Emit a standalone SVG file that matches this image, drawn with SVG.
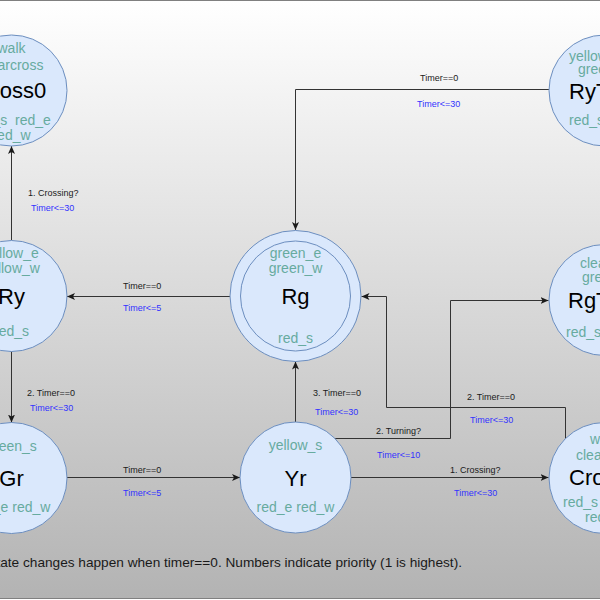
<svg xmlns="http://www.w3.org/2000/svg" width="600" height="600" viewBox="0 0 600 600">
<style>
.st circle{fill:#dae8fc;stroke:#6c8ebf;stroke-width:1}
text{font-family:"Liberation Sans",Arial,sans-serif}
.v{font-size:14px;fill:#67ab9f}
.n{font-size:22px;fill:#000}
.m{text-anchor:middle}
.l{font-size:9px;fill:#1a1a1a}
.t{font-size:9px;fill:#3333ff}
.e{fill:none;stroke:#333;stroke-width:1;marker-end:url(#arr)}
.foot{font-size:13.65px;fill:#1a1a1a}
</style>
<defs>
<linearGradient id="bg" x1="0" y1="0" x2="0" y2="1">
<stop offset="0" stop-color="#ffffff"/>
<stop offset="1" stop-color="#b3b3b3"/>
</linearGradient>
<marker id="arr" markerUnits="userSpaceOnUse" markerWidth="10" markerHeight="8" refX="8" refY="3.5" orient="auto">
<path d="M0,0 L8,3.5 L0,7 L2,3.5 Z" fill="#1a1a1a"/>
</marker>
</defs>
<rect x="-10" y="0.5" width="620" height="598" fill="url(#bg)" stroke="#808080"/>

<g id="connectors">
<path class="e" d="M549,89.5 H295.5 V230"/>
<path class="e" d="M230,296.5 H67"/>
<path class="e" d="M11.5,240 V146"/>
<path class="e" d="M11.5,351.5 V422.5"/>
<path class="e" d="M67,477.5 H240"/>
<path class="e" d="M295.5,422 V361.5"/>
<path class="e" d="M334,438.5 H450.5 V300.5 H548.5"/>
<path class="e" d="M565.5,439 V407.5 H386.5 V296.5 H361.5"/>
<path class="e" d="M351,477.5 H548.5"/>
<text class="l" x="420" y="81">Timer==0</text>
<text class="t" x="417" y="107">Timer&lt;=30</text>
<text class="l" x="123" y="288.5">Timer==0</text>
<text class="t" x="123" y="311">Timer&lt;=5</text>
<text class="l" x="28" y="196">1. Crossing?</text>
<text class="t" x="31" y="211">Timer&lt;=30</text>
<text class="l" x="27" y="396">2. Timer==0</text>
<text class="t" x="30" y="411">Timer&lt;=30</text>
<text class="l" x="123" y="472.5">Timer==0</text>
<text class="t" x="123" y="495.5">Timer&lt;=5</text>
<text class="l" x="313" y="396">3. Timer==0</text>
<text class="t" x="315" y="415">Timer&lt;=30</text>
<text class="l" x="467" y="399.5">2. Timer==0</text>
<text class="t" x="470" y="422.5">Timer&lt;=30</text>
<text class="l" x="376" y="434">2. Turning?</text>
<text class="t" x="377" y="457.5">Timer&lt;=10</text>
<text class="l" x="450" y="472.5">1. Crossing?</text>
<text class="t" x="454" y="495.5">Timer&lt;=30</text>
</g>

<g id="Cross0" class="st">
<circle cx="11.5" cy="90.5" r="55.5"/>
<text class="v m" x="11.5" y="53">walk</text>
<text class="v m" x="11.5" y="70">clearcross</text>
<text class="n m" x="11.5" y="97.5">Cross0</text>
<text class="v m" x="11.5" y="125" xml:space="preserve">red_s  red_e</text>
<text class="v m" x="11.5" y="140">red_w</text>
</g>

<g id="RyTurn" class="st">
<circle cx="604.5" cy="90.5" r="55.5"/>
<text class="v" x="569" y="61">yellow_turn</text>
<text class="v" x="578" y="74">green_e</text>
<text class="n" x="569" y="98.5">RyTurn</text>
<text class="v" x="569" y="125">red_s red_w</text>
</g>

<g id="Ry" class="st">
<circle cx="11.5" cy="296" r="55.5"/>
<text class="v m" x="11.5" y="258">yellow_e</text>
<text class="v m" x="11.5" y="273">yellow_w</text>
<text class="n m" x="11.5" y="304">Ry</text>
<text class="v m" x="11.5" y="336">red_s</text>
</g>

<g id="Rg" class="st">
<circle cx="295.5" cy="296" r="65.5"/>
<circle cx="295.5" cy="296" r="55"/>
<text class="v m" x="295.5" y="258">green_e</text>
<text class="v m" x="295.5" y="273">green_w</text>
<text class="n m" x="295.5" y="304">Rg</text>
<text class="v m" x="295.5" y="343">red_s</text>
</g>

<g id="RgTurn" class="st">
<circle cx="604.5" cy="300" r="55.5"/>
<text class="v" x="580" y="267.5">clearturn</text>
<text class="v" x="582" y="281.5">green_e</text>
<text class="n" x="568" y="307.5">RgTurn</text>
<text class="v" x="566" y="337">red_s red_w</text>
</g>

<g id="Gr" class="st">
<circle cx="11.5" cy="478" r="55.5"/>
<text class="v m" x="11.5" y="451">green_s</text>
<text class="n m" x="11.5" y="486">Gr</text>
<text class="v m" x="11.5" y="512">red_e red_w</text>
</g>

<g id="Yr" class="st">
<circle cx="295.5" cy="477.5" r="55.5"/>
<text class="v m" x="295.5" y="450">yellow_s</text>
<text class="n m" x="295.5" y="486">Yr</text>
<text class="v m" x="295.5" y="512">red_e red_w</text>
</g>

<g id="Cross1" class="st">
<circle cx="604.5" cy="478" r="55.5"/>
<text class="v" x="590" y="443.5">walk</text>
<text class="v" x="576" y="459.5">clearcross</text>
<text class="n" x="569" y="485">Cross1</text>
<text class="v" x="563" y="507" xml:space="preserve">red_s  red_e</text>
<text class="v" x="585" y="522">red_w</text>
</g>

<text class="foot" x="462" y="567" text-anchor="end">State changes happen when timer==0. Numbers indicate priority (1 is highest).</text>
</svg>
